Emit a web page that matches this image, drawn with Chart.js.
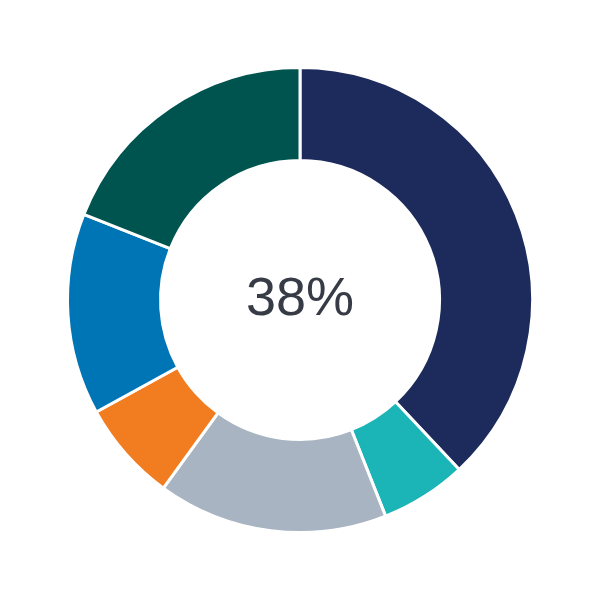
<!doctype html>
<html lang="en">
    <head>
        <meta charset="UTF-8" />
        <title>Doughnut</title>
        <script src="https://cdn.jsdelivr.net/npm/chart.js"></script>
        <style>
            html, body { margin: 0; padding: 0; background: #fff; }
            #wrap { position: relative; width: 600px; height: 600px; }
        </style>
    </head>
    <body>
        <div id="wrap"><canvas id="donut"></canvas></div>
        <script>
            var labels = ["Segment A", "Segment B", "Segment C", "Segment D", "Segment E", "Segment F"];
            var values = [38, 6, 16, 7, 14, 19];
            var colors = ["#1c2b5b", "#1bb4b7", "#a9b4c2", "#f27d21", "#0075b5", "#00544f"];
            var centerLabel = "38%";

            var centerText = {
                id: "centerText",
                afterDraw: function (chart) {
                    var ctx = chart.ctx;
                    var meta = chart.getDatasetMeta(0).data[0];
                    ctx.save();
                    ctx.font = "54px 'Liberation Sans', Arial, sans-serif";
                    ctx.fillStyle = "#363b46";
                    ctx.textAlign = "center";
                    ctx.textBaseline = "middle";
                    ctx.fillText(centerLabel, meta.x, meta.y);
                    ctx.restore();
                }
            };

            new Chart(document.getElementById("donut").getContext("2d"), {
                type: "doughnut",
                data: {
                    labels: labels,
                    datasets: [
                        {
                            data: values,
                            backgroundColor: colors,
                            borderColor: "#ffffff",
                            borderWidth: 3
                        }
                    ]
                },
                options: {
                    responsive: true,
                    maintainAspectRatio: false,
                    animation: false,
                    cutout: "60%",
                    layout: { padding: 66 },
                    plugins: {
                        legend: { display: false },
                        tooltip: { enabled: false }
                    }
                },
                plugins: [centerText]
            });
        </script>
    </body>
</html>
